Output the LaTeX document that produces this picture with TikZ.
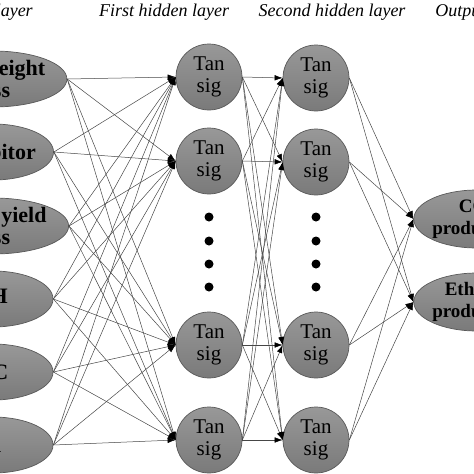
\documentclass[tikz,border=0pt]{standalone}
\usepackage{fontspec}
\setmainfont{Liberation Serif}
\usetikzlibrary{arrows.meta,shapes.geometric}
\definecolor{nodetop}{RGB}{152,152,152}
\definecolor{nodebot}{RGB}{122,122,122}
\definecolor{edgegray}{RGB}{70,70,70}

\begin{document}
\begin{tikzpicture}[x=1pt, y=-1pt,
  neuron/.style={circle, draw=black!65, line width=0.7pt, top color=nodetop, bottom color=nodebot, minimum size=66pt, inner sep=0pt, align=center, font=\fontsize{21}{22}\selectfont},
  inp/.style={ellipse, draw=black!65, line width=0.7pt, top color=nodetop, bottom color=nodebot, minimum width=120pt, minimum height=56pt, inner sep=0pt, align=center, font=\fontsize{22}{22}\selectfont\bfseries},
  outp/.style={inp, minimum width=114pt, minimum height=58pt, font=\fontsize{19}{22}\selectfont\bfseries},
  dot/.style={circle, fill=black, minimum size=9pt, inner sep=0pt},
  title/.style={font=\fontsize{18}{20}\selectfont\itshape},
  link/.style={draw=edgegray, line width=0.5pt, -{Latex[length=8pt,width=5.5pt,black]}}]
  \useasboundingbox (0,0) rectangle (474,474);
  \clip (0,0) rectangle (474,474);

  % layer titles
  \node[title] (t0) at (-7,12) {Input layer};
  \node[title] (t1) at (164,12) {First hidden layer};
  \node[title] (t2) at (332,12) {Second hidden layer};
  \node[title] (t3) at (481,12) {Output layer};

  % input layer
  \node[inp] (in1) at (-7,79) {Dry weight\\loss};
  \node[inp] (in2) at (-7,152) {Inhibitor};
  \node[inp] (in3) at (-7,226) {Sugar yield\\loss};
  \node[inp] (in4) at (-7,299) {pH};
  \node[inp] (in5) at (-7,372) {EC};
  \node[inp] (in6) at (-7,445) {A};

  % hidden layers
  \node[neuron] (ha1) at (209,77) {Tan\\sig};
  \node[neuron] (ha2) at (209,161) {Tan\\sig};
  \node[neuron] (ha3) at (209,345) {Tan\\sig};
  \node[neuron] (ha4) at (209,440) {Tan\\sig};
  \node[neuron] (hb1) at (316,78) {Tan\\sig};
  \node[neuron] (hb2) at (316,162) {Tan\\sig};
  \node[neuron] (hb3) at (316,345) {Tan\\sig};
  \node[neuron] (hb4) at (316,440) {Tan\\sig};

  \foreach \y [count=\k] in {217,241,264,287} {
    \node[dot] (da\k) at (209,\y) {};
    \node[dot] (db\k) at (316,\y) {};
  }

  % output layer
  \node[outp] (out1) at (477,219) {CO$_2$\\production};
  \node[outp] (out2) at (477,302) {Ethanol\\production};

  % connections
  \foreach \i in {1,...,6}
    \foreach \j in {1,...,4}
      \draw[link] (in\i.east) -- (ha\j.west);
  \foreach \i in {1,...,4}
    \foreach \j in {1,...,4}
      \draw[link] (ha\i.east) -- (hb\j.west);
  \foreach \i in {1,...,4}
    \foreach \j in {1,2}
      \draw[link] (hb\i.east) -- (out\j.west);
\end{tikzpicture}
\end{document}
